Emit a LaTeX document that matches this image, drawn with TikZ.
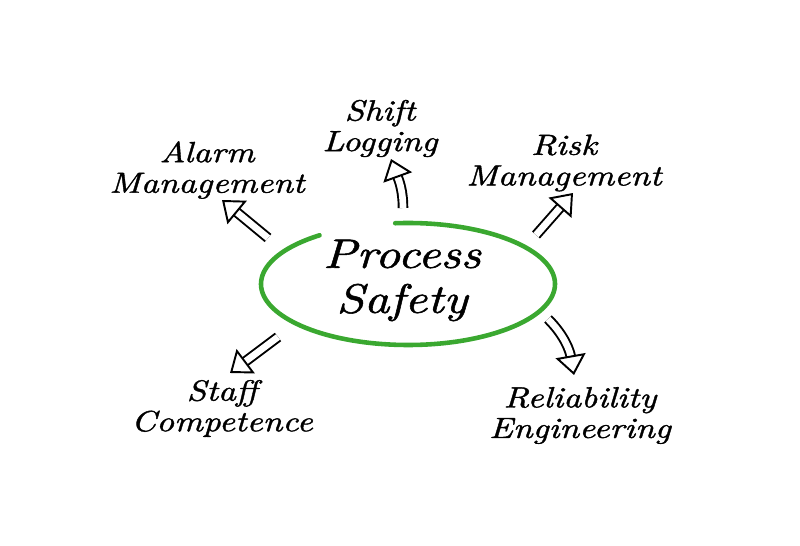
\documentclass[tikz,border=0pt]{standalone}
\usepackage{fontspec}
\newfontfamily\hand{lmroman10-italic}[Extension=.otf,FakeStretch=1.2,FakeBold=1.3]
\usetikzlibrary{arrows.meta}
\definecolor{ringgreen}{RGB}{58,168,48}
\begin{document}
\begin{tikzpicture}[
    topic/.style={align=center,inner sep=0pt,font=\hand\fontsize{8.3}{8.7}\selectfont},
    core/.style={align=center,inner sep=0pt,font=\hand\fontsize{11.7}{12.8}\selectfont},
    ring/.style={ringgreen,line width=1.3pt,line cap=round},
    hollow/.style={double,double distance=1.9pt,line width=0.55pt,
        -{Triangle[open,length=5.6pt,width=8.6pt,line width=0.55pt]}}
    ]
        \useasboundingbox (0,0) rectangle (8,5.46);
        \node[core] (ps) at (4.02,2.655) {Process\\Safety};
        \draw[ring] ([shift={(127:1.47 and 0.61)}]4.08,2.62) arc[start angle=127,end angle=455,x radius=1.47,y radius=0.61];
        \node[topic] (alarm) at (2.07,3.76) {Alarm\\Management};
        \node[topic] (shift) at (3.80,4.175) {Shift\\Logging};
        \node[topic] (risk) at (5.64,3.83) {Risk\\Management};
        \node[topic] (staff) at (2.22,1.375) {Staff\\Competence};
        \node[topic] (rel) at (5.80,1.305) {Reliability\\Engineering};
        % arrow ends
        \coordinate (alarm-t) at (2.68,3.08);
        \coordinate (alarm-h) at (2.22,3.46);
        \coordinate (shift-t) at (4.03,3.38);
        \coordinate (shift-h) at (3.91,3.87);
        \coordinate (risk-t) at (5.36,3.11);
        \coordinate (risk-h) at (5.73,3.53);
        \coordinate (staff-t) at (2.78,2.09);
        \coordinate (staff-h) at (2.30,1.73);
        \coordinate (rel-t) at (5.48,2.27);
        \coordinate (rel-h) at (5.74,1.71);
        \draw[hollow] (alarm-t) -- (alarm-h);
        \draw[hollow] (shift-t) to[out=90,in=-70] (shift-h);
        \draw[hollow] (risk-t) -- (risk-h);
        \draw[hollow] (staff-t) -- (staff-h);
        \draw[hollow] (rel-t) to[out=-45,in=100] (rel-h);
    \end{tikzpicture}
\end{document}
